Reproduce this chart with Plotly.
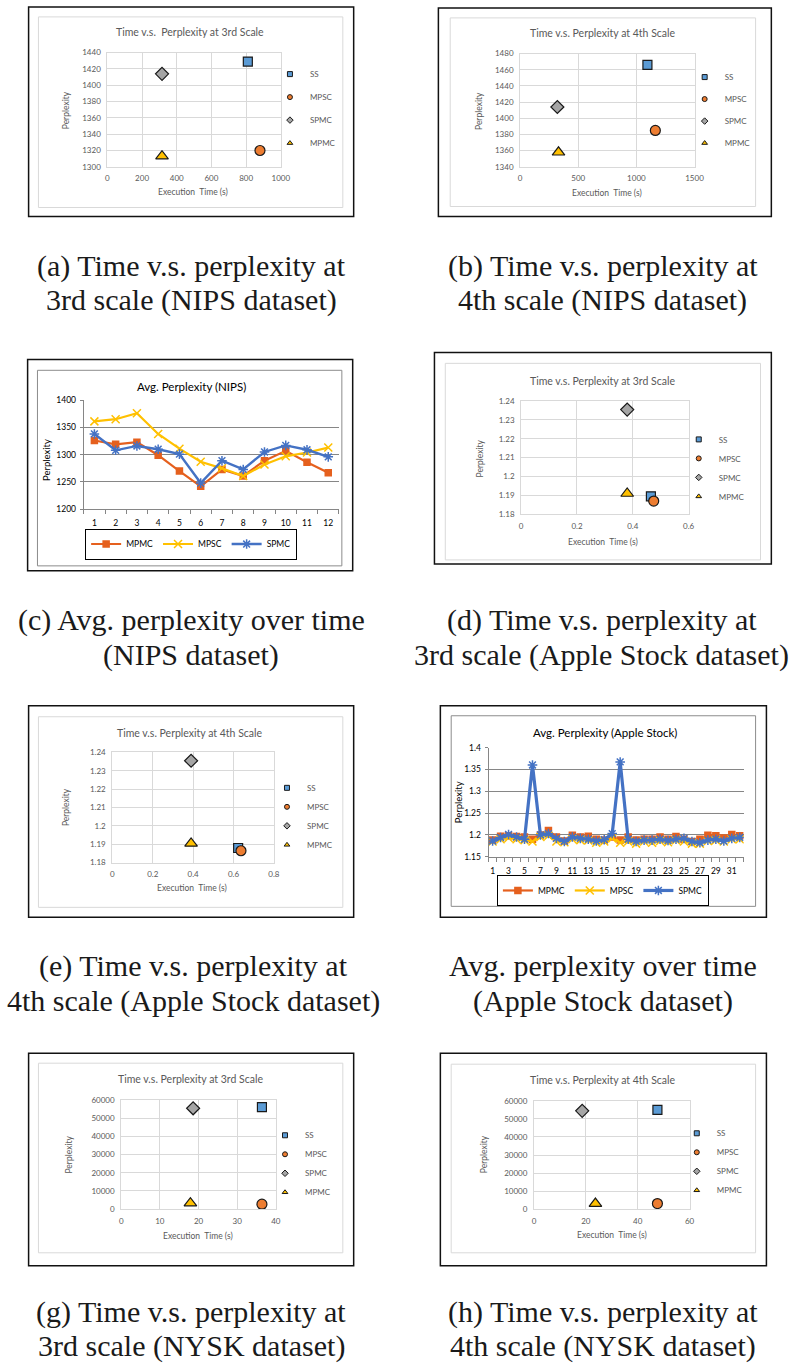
import plotly.graph_objects as go

W, H = 804, 1366

# ---------------- data ----------------
SERIES = ["SS", "MPSC", "SPMC", "MPMC"]

NIPS_3RD_TIME = [810, 880, 315, 315]
NIPS_3RD_PPL = [1429, 1320, 1414, 1313]
NIPS_4TH_TIME = [1095, 1163, 320, 330]
NIPS_4TH_PPL = [1466, 1385, 1414, 1358]
APPLE_3RD_TIME = [0.465, 0.475, 0.38, 0.38]
APPLE_3RD_PPL = [1.1895, 1.187, 1.2355, 1.191]
APPLE_4TH_TIME = [0.623, 0.637, 0.39, 0.39]
APPLE_4TH_PPL = [1.188, 1.1865, 1.2355, 1.1905]
NYSK_3RD_TIME = [36.4, 36.4, 18.6, 17.9]
NYSK_3RD_PPL = [56000, 2700, 55400, 3300]
NYSK_4TH_TIME = [47.6, 47.6, 18.6, 23.7]
NYSK_4TH_PPL = [55000, 3100, 54500, 3100]

LINE_SERIES = ["MPMC", "MPSC", "SPMC"]
NIPS_STEPS = list(range(1, 13))
NIPS_MPMC = [1326, 1319, 1323, 1299, 1270, 1242, 1273, 1261, 1289, 1307, 1286, 1267]
NIPS_MPSC = [1361, 1365, 1376, 1338, 1311, 1287, 1275, 1261, 1282, 1297, 1304, 1313]
NIPS_SPMC = [1338, 1308, 1316, 1310, 1301, 1248, 1289, 1273, 1305, 1317, 1309, 1296]

APPLE_STEPS = list(range(1, 33))
APPLE_MPMC = [1.188, 1.197, 1.198, 1.196, 1.195, 1.190, 1.200, 1.210, 1.195, 1.186,
              1.199, 1.195, 1.197, 1.190, 1.188, 1.195, 1.188, 1.195, 1.188, 1.190,
              1.190, 1.195, 1.190, 1.196, 1.190, 1.185, 1.190, 1.199, 1.198, 1.193,
              1.201, 1.198]
APPLE_MPSC = [1.185, 1.190, 1.193, 1.190, 1.188, 1.185, 1.195, 1.198, 1.185, 1.183,
              1.190, 1.188, 1.187, 1.182, 1.185, 1.192, 1.182, 1.185, 1.180, 1.185,
              1.182, 1.186, 1.183, 1.188, 1.185, 1.180, 1.180, 1.186, 1.188, 1.185,
              1.190, 1.190]
APPLE_SPMC = [1.186, 1.194, 1.201, 1.195, 1.190, 1.360, 1.200, 1.203, 1.192, 1.185,
              1.195, 1.192, 1.190, 1.186, 1.189, 1.203, 1.367, 1.190, 1.185, 1.188,
              1.188, 1.190, 1.187, 1.190, 1.192, 1.185, 1.182, 1.188, 1.190, 1.186,
              1.192, 1.194]
APPLE_TICKS = list(range(1, 32, 2))

CAPTIONS = [
    ["(a) Time v.s. perplexity at", "3rd scale (NIPS dataset)"],
    ["(b) Time v.s. perplexity at", "4th scale (NIPS dataset)"],
    ["(c) Avg. perplexity over time", "(NIPS dataset)"],
    ["(d) Time v.s. perplexity at", "3rd scale (Apple Stock dataset)"],
    ["(e) Time v.s. perplexity at", "4th scale (Apple Stock dataset)"],
    ["Avg. perplexity over time", "(Apple Stock dataset)"],
    ["(g) Time v.s. perplexity at", "3rd scale (NYSK dataset)"],
    ["(h) Time v.s. perplexity at", "4th scale (NYSK dataset)"],
]

# ---------------- helpers ----------------
def fx(x):
    return x / W


def fy(y):
    return 1 - y / H


CHART_FONT = "Lato, 'Open Sans', sans-serif"
SERIF = "'Liberation Serif', 'DejaVu Serif', serif"
GRAY_TXT = "#595959"
LIGHT_GRID = "#D9D9D9"
DARK_GRID = "#868686"

MARKERS = {
    "SS": dict(symbol="square", color="#5B9BD5", size=9),
    "MPSC": dict(symbol="circle", color="#ED7D31", size=10),
    "SPMC": dict(symbol="diamond", color="#A5A5A5", size=10),
    "MPMC": dict(symbol="triangle-up", color="#FFC000", size=11),
}

fig = go.Figure()
shapes = []
annotations = []
layout = {}


def text(x, y, s, size, color, family=CHART_FONT, angle=0):
    annotations.append(dict(
        x=fx(x), y=fy(y), xref="paper", yref="paper", text=s, showarrow=False,
        xanchor="center", yanchor="middle", textangle=angle,
        font=dict(family=family, size=size, color=color)))


def frame(outer, inner, inner_color):
    x0, y0, x1, y1 = outer
    shapes.append(dict(type="rect", xref="paper", yref="paper",
                       x0=fx(x0), x1=fx(x1), y0=fy(y1), y1=fy(y0),
                       line=dict(color="#111111", width=1.5)))
    x0, y0, x1, y1 = inner
    shapes.append(dict(type="rect", xref="paper", yref="paper",
                       x0=fx(x0), x1=fx(x1), y0=fy(y1), y1=fy(y0),
                       line=dict(color=inner_color, width=1)))


def scatter_panel(idx, times, ppls, xrange_, xdtick, yrange_, ydtick, dom,
                  outer, inner, title, title_xy, ytitle_xy, xtitle_xy,
                  leg_xy, leg_gap, yfmt=None):
    sfx = "" if idx == 1 else str(idx)
    xa, ya = "x" + sfx, "y" + sfx
    leg = "legend" + sfx
    for name, t, p in zip(SERIES, times, ppls):
        m = MARKERS[name]
        fig.add_trace(go.Scatter(
            x=[t], y=[p], mode="markers", name=name, showlegend=False,
            xaxis=xa, yaxis=ya,
            marker=dict(symbol=m["symbol"], color=m["color"], size=m["size"],
                        line=dict(color="#1a1a1a", width=1.2))))
        fig.add_trace(go.Scatter(
            x=[None], y=[None], mode="markers", name=name, showlegend=True,
            legend=leg, legendgroup=f"{idx}-{name}", xaxis=xa, yaxis=ya,
            marker=dict(symbol=m["symbol"], color=m["color"], size=5,
                        line=dict(color="#1a1a1a", width=1))))
    axis_common = dict(showgrid=True, gridcolor=LIGHT_GRID, gridwidth=1,
                       showline=True, linecolor=LIGHT_GRID, linewidth=1, mirror=True,
                       zeroline=False, ticks="", fixedrange=True,
                       tickfont=dict(family=CHART_FONT, size=8, color=GRAY_TXT))
    layout["xaxis" + sfx] = dict(axis_common, domain=[fx(dom[0]), fx(dom[2])],
                                 range=xrange_, dtick=xdtick, tick0=0,
                                 anchor=ya, ticklabelstandoff=4)
    ya_d = dict(axis_common, domain=[fy(dom[3]), fy(dom[1])],
                range=yrange_, dtick=ydtick, tick0=yrange_[0], anchor=xa,
                ticklabelstandoff=4)
    if yfmt:
        ya_d["tickformat"] = yfmt
    layout["yaxis" + sfx] = ya_d
    layout[leg] = dict(x=fx(leg_xy[0]), y=fy(leg_xy[1]), xanchor="left",
                       yanchor="top", bgcolor="rgba(0,0,0,0)",
                       tracegroupgap=leg_gap, itemwidth=30,
                       font=dict(family=CHART_FONT, size=8, color=GRAY_TXT))
    frame(outer, inner, LIGHT_GRID)
    text(title_xy[0], title_xy[1], title, 10.5, GRAY_TXT)
    text(ytitle_xy[0], ytitle_xy[1], "Perplexity", 8.5, GRAY_TXT, angle=-90)
    text(xtitle_xy[0], xtitle_xy[1], "Execution  Time (s)", 8.5, GRAY_TXT)


LINE_STYLE = {
    "MPMC": dict(color="#E5601E", symbol="square", size=6, lw=2.2),
    "MPSC": dict(color="#FFC000", symbol="x-thin-open", size=8, lw=2.2),
    "SPMC": dict(color="#4472C4", symbol="asterisk-open", size=8, lw=2.4),
}


def line_panel(idx, steps, values, yrange_, ydtick, tickvals, dom, outer, inner,
               title, title_xy, ytitle_xy, leg_xy, spmc_lw):
    sfx = str(idx)
    xa, ya = "x" + sfx, "y" + sfx
    leg = "legend" + sfx
    for name, vals in zip(LINE_SERIES, values):
        st = LINE_STYLE[name]
        lw = spmc_lw if name == "SPMC" else st["lw"]
        fig.add_trace(go.Scatter(
            x=steps, y=vals, mode="lines+markers", name=name, legend=leg,
            xaxis=xa, yaxis=ya,
            line=dict(color=st["color"], width=lw),
            marker=dict(symbol=st["symbol"], size=st["size"], color=st["color"],
                        line=dict(color=st["color"], width=1.5))))
    n = len(steps)
    layout["xaxis" + sfx] = dict(
        domain=[fx(dom[0]), fx(dom[2])], range=[0.5, n + 0.5], anchor=ya,
        tickmode="array", tickvals=tickvals, ticktext=[str(v) for v in tickvals],
        ticks="", showgrid=False, zeroline=False, showline=True,
        linecolor=DARK_GRID, linewidth=1, fixedrange=True, ticklabelstandoff=6,
        minor=dict(tickmode="array", tickvals=[k + 0.5 for k in range(n + 1)],
                   ticks="outside", ticklen=4, tickcolor=DARK_GRID, showgrid=False),
        tickfont=dict(family=CHART_FONT, size=8.5, color="#000000"))
    layout["yaxis" + sfx] = dict(
        domain=[fy(dom[3]), fy(dom[1])], range=yrange_, dtick=ydtick,
        tick0=yrange_[0], anchor=xa, showgrid=True, gridcolor=DARK_GRID,
        gridwidth=1, zeroline=False, showline=True, linecolor=DARK_GRID,
        linewidth=1, ticks="outside", ticklen=3, tickcolor=DARK_GRID,
        fixedrange=True, ticklabelstandoff=2,
        tickfont=dict(family=CHART_FONT, size=8.5, color="#000000"))
    layout[leg] = dict(x=fx(leg_xy[0]), y=fy(leg_xy[1]), xanchor="center",
                       yanchor="middle", orientation="h", bgcolor="white",
                       bordercolor="#000000", borderwidth=1, itemwidth=30,
                       font=dict(family=CHART_FONT, size=8.5, color="#000000"))
    frame(outer, inner, "#8C8C8C")
    text(title_xy[0], title_xy[1], title, 11.5, "#000000")
    text(ytitle_xy[0], ytitle_xy[1], "Perplexity", 9.5, "#000000", angle=-90)


# (a)
scatter_panel(1, NIPS_3RD_TIME, NIPS_3RD_PPL, [0, 1000], 200, [1300, 1440], 20,
              (107, 48, 283, 163), (27, 2, 357, 213), (37, 12, 346, 204),
              "Time v.s.  Perplexity at 3rd Scale", (191, 27), (65, 106),
              (194, 188), (272, 55), 4)
# (b)
scatter_panel(2, NIPS_4TH_TIME, NIPS_4TH_PPL, [0, 1500], 500, [1340, 1480], 20,
              (526, 49, 703, 163), (443, 3, 781, 213), (455, 13, 765, 203),
              "Time v.s. Perplexity at 4th Scale", (610, 28), (484, 107),
              (614, 189), (693, 58), 3)
# (c)
line_panel(3, NIPS_STEPS, [NIPS_MPMC, NIPS_MPSC, NIPS_SPMC], [1200, 1400], 50,
           NIPS_STEPS, (83, 398, 342, 508), (26, 357, 356, 570),
           (36, 368, 345, 565), "Avg. Perplexity (NIPS)", (192, 384),
           (45, 458), (192, 543), 2.4)
# (d)
scatter_panel(4, APPLE_3RD_TIME, APPLE_3RD_PPL, [0, 0.6], 0.2, [1.18, 1.24], 0.01,
              (527, 399, 697, 513), (439, 350, 781, 563), (450, 361, 770, 559),
              "Time v.s. Perplexity at 3rd Scale", (610, 379), (485, 457),
              (610, 541), (687, 423), 0)
# (e)
scatter_panel(5, APPLE_4TH_TIME, APPLE_4TH_PPL, [0, 0.8], 0.2, [1.18, 1.24], 0.01,
              (112, 753, 276, 864), (27, 706, 357, 919), (37, 717, 346, 909),
              "Time v.s. Perplexity at 4th Scale", (191, 733), (65, 808),
              (193, 890), (269, 774), 0)
# (f)
line_panel(6, APPLE_STEPS, [APPLE_MPMC, APPLE_MPSC, APPLE_SPMC], [1.15, 1.4], 0.05,
           APPLE_TICKS, (494, 748, 753, 858), (445, 706, 776, 919),
           (456, 716, 765, 908), "Avg. Perplexity (Apple Stock)", (612, 733),
           (463, 803), (610, 892), 3.2)
# (g)
scatter_panel(7, NYSK_3RD_TIME, NYSK_3RD_PPL, [0, 40], 10, [0, 60000], 10000,
              (121, 1103, 278, 1213), (27, 1056, 357, 1270), (37, 1066, 346, 1257),
              "Time v.s. Perplexity at 3rd Scale", (191, 1082), (68, 1158),
              (199, 1240), (267, 1124), 0, yfmt="d")
# (h)
scatter_panel(8, NYSK_4TH_TIME, NYSK_4TH_PPL, [0, 60], 20, [0, 60000], 10000,
              (540, 1104, 698, 1213), (445, 1056, 776, 1270), (456, 1067, 765, 1257),
              "Time v.s. Perplexity at 4th Scale", (610, 1083), (489, 1158),
              (619, 1239), (685, 1122), 0, yfmt="d")

# captions
CAPTION_POS = [(192, 263, 297), (610, 263, 297), (192, 620, 655), (609, 620, 655),
               (194, 968, 1003), (610, 968, 1003), (192, 1317, 1351), (610, 1317, 1351)]
for (cx, y1, y2), (l1, l2) in zip(CAPTION_POS, CAPTIONS):
    text(cx, y1, l1, 30, "#1a1a1a", family=SERIF)
    text(cx, y2, l2, 30, "#1a1a1a", family=SERIF)

fig.update_layout(
    width=W, height=H, autosize=False,
    margin=dict(l=0, r=0, t=0, b=0, pad=0),
    paper_bgcolor="white", plot_bgcolor="white",
    shapes=shapes, annotations=annotations, **layout)

fig.write_html("out.html", config={"displayModeBar": False, "staticPlot": True},
               post_script="document.body.style.margin='0';")
